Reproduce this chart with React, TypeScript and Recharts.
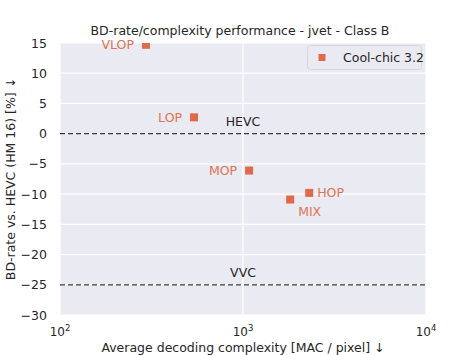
import React from 'react';
import { ScatterChart, Scatter, XAxis, YAxis, CartesianGrid, ReferenceLine, LabelList } from 'recharts';

const pointNames = ['VLOP', 'LOP', 'MOP', 'HOP', 'MIX'];
const complexity = [295, 540, 1080, 2300, 1810];
const bdRate = [14.7, 2.7, -6.1, -9.8, -10.9];
const xTicks = [100, 1000, 10000];
const xTickExp = ['2', '3', '4'];
const yTicks = [-30, -25, -20, -15, -10, -5, 0, 5, 10, 15];
const refLines = [{ y: 0, name: 'HEVC' }, { y: -25, name: 'VVC' }];
const seriesName = 'Cool-chic 3.2';

const data = pointNames.map((n, i) => ({ name: n, x: complexity[i], y: bdRate[i] }));

const labelPlace: Record<string, { dx: number; dy: number; anchor: string }> = {
  VLOP: { dx: -12, dy: 0, anchor: 'end' },
  LOP: { dx: -12, dy: 0, anchor: 'end' },
  MOP: { dx: -12, dy: 0, anchor: 'end' },
  HOP: { dx: 8, dy: 0, anchor: 'start' },
  MIX: { dx: 8, dy: 12, anchor: 'start' },
};

const FONT = 'DejaVu Sans, sans-serif';
const MARK = '#E2684A';
const LABEL = '#E07255';
const TXT = '#262626';

const XTick = (props: any) => {
  const { x, y, payload, index } = props;
  const i = xTicks.indexOf(payload.value);
  return (
    <text x={x} y={y + 13} textAnchor="middle" fontSize={12} fill={TXT} fontFamily={FONT}>
      10<tspan dy={-5} fontSize={8.5}>{xTickExp[i >= 0 ? i : index]}</tspan>
    </text>
  );
};

const YTick = (props: any) => {
  const { x, y, payload } = props;
  const v = payload.value;
  const s = v < 0 ? '\u2212' + Math.abs(v) : String(v);
  return (
    <text x={x - 5} y={y + 4.5} textAnchor="end" fontSize={12.5} fill={TXT} fontFamily={FONT}>{s}</text>
  );
};

const Square = (props: any) => {
  const { cx, cy } = props;
  return <rect x={cx - 4} y={cy - 4} width={8} height={8} fill={MARK} />;
};

const PointLabel = (props: any) => {
  const { x, y, width, height, value } = props;
  const cx = x + (width || 0) / 2;
  const cy = y + (height || 0) / 2;
  const p = labelPlace[value] || { dx: 8, dy: 0, anchor: 'start' };
  return (
    <text x={cx + p.dx} y={cy + p.dy + 4.5} textAnchor={p.anchor as any} fontSize={12.5} fill={LABEL} fontFamily={FONT}>{value}</text>
  );
};

export default function App() {
  return (
    <div style={{ position: 'absolute', left: 0, top: 0, width: 474, height: 355, background: '#fff' }}>
      <ScatterChart width={474} height={355} margin={{ top: 43, right: 48, left: 0, bottom: 0 }}>
        <CartesianGrid fill="#EAEAF2" stroke="#ffffff" strokeWidth={1.2} />
        <XAxis type="number" dataKey="x" scale="log" domain={[100, 10000]} ticks={xTicks} height={40}
          axisLine={false} tickLine={false} tick={<XTick />} allowDataOverflow />
        <YAxis type="number" dataKey="y" domain={[-30, 15]} ticks={yTicks} width={60}
          axisLine={false} tickLine={false} tick={<YTick />} allowDataOverflow />
        {refLines.map((r) => (
          <ReferenceLine key={r.name} y={r.y} stroke="#3a3a3a" strokeWidth={1.3} strokeDasharray="5 3"
            label={{ value: r.name, position: 'top', offset: 8, fill: TXT, fontSize: 12.5, fontFamily: FONT }} />
        ))}
        <Scatter name={seriesName} data={data} shape={<Square />} isAnimationActive={false}>
          <LabelList dataKey="name" content={<PointLabel />} />
        </Scatter>
        <g>
          <rect x={307.5} y={45.5} width={114} height={24} rx={3} fill="#EAEAF2" stroke="#d6d6de" />
          <rect x={318.5} y={54} width={7} height={7} fill={MARK} />
          <text x={343} y={62} fontSize={12.5} fill={TXT} fontFamily={FONT}>{seriesName}</text>
        </g>
        <text x={240} y={35} textAnchor="middle" fontSize={12.5} fill={TXT} fontFamily={FONT}>BD-rate/complexity performance - jvet - Class B</text>
        <text x={243} y={352} textAnchor="middle" fontSize={12.5} fill={TXT} fontFamily={FONT}>Average decoding complexity [MAC / pixel] ↓</text>
        <text x={0} y={0} transform="translate(15,179) rotate(-90)" textAnchor="middle" fontSize={12.5} fill={TXT} fontFamily={FONT}>BD-rate vs. HEVC (HM 16) [%] ↓</text>
      </ScatterChart>
    </div>
  );
}
